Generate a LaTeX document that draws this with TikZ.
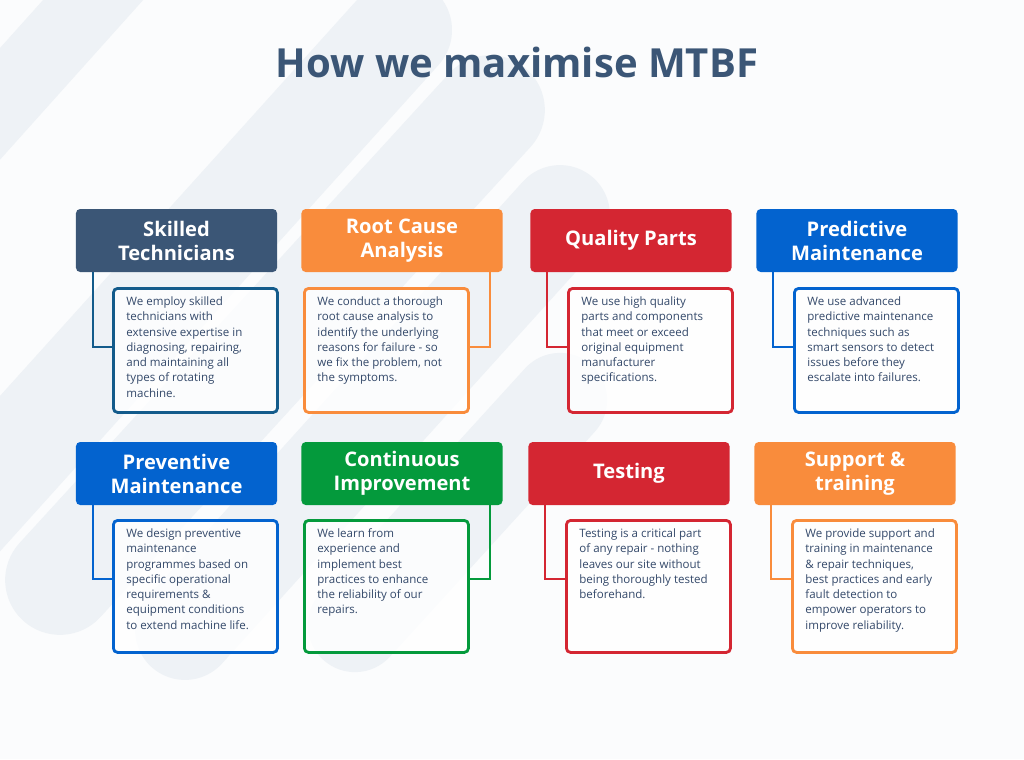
\documentclass[tikz,border=0pt]{standalone}
\usepackage{fontspec}
\setmainfont{Open Sans}
\usepackage{xcolor}
\definecolor{slate}{HTML}{3B5676}
\definecolor{slateline}{HTML}{135B8B}
\definecolor{amber}{HTML}{F98C3C}
\definecolor{crimson}{HTML}{D42632}
\definecolor{royal}{HTML}{0363CF}
\definecolor{leaf}{HTML}{049A3C}
\definecolor{ink}{HTML}{34496A}
\definecolor{paper}{HTML}{FBFCFD}
\definecolor{band}{HTML}{EEF2F6}
\usepackage{tikz}
\tikzset{
  head/.style={fill=#1, rounded corners=3pt, text=white, align=center, inner sep=0pt,
    minimum width=5.025cm, minimum height=1.575cm, font=\fontsize{14.3}{17}\selectfont\bfseries},
  card/.style={draw=#1, line width=2pt, rounded corners=3pt, fill=white, fill opacity=0.8,
    text opacity=1, text=ink, inner xsep=0.325cm, inner ysep=0pt, anchor=north west,
    font=\fontsize{8.2}{10.85}\selectfont},
  link/.style={draw=#1, line width=1.4pt},
  stripe/.style={band, line width=#1, line cap=round},
}
\newcommand\cardtext[2]{\parbox[c][#1][t]{3.45cm}{\raggedright\rule{0pt}{0.43cm}#2}}

\begin{document}
\begin{tikzpicture}[x=0.025cm, y=-0.025cm]
  \fill[paper] (0,0) rectangle (1024,759);
  % faint stripes behind everything
  \begin{scope}
    \clip (0,0) rectangle (1024,759);
    \draw[stripe=53pt] (-140,260) -- (120,-30);
    \draw[stripe=74pt] (-150,640) -- (400,30);
    \draw[stripe=78pt] (60,580) -- (490,110);
    \draw[stripe=71pt] (185,630) -- (560,215);
    \draw[stripe=67pt] (355,625) -- (560,400);
  \end{scope}

  \node[font=\fontsize{28.5}{32}\selectfont\bfseries, text=slate] (title) at (517,62) {How we maximise MTBF};

  \node[head=slate] (h1) at (176.5,240.5) {Skilled\\Technicians};
  \node[head=amber] (h2) at (402,240.5) {Root Cause\\Analysis};
  \node[head=crimson] (h3) at (631,240.5) {Quality Parts};
  \node[head=royal] (h4) at (857,240.5) {Predictive\\Maintenance};
  \node[head=royal] (h5) at (176.5,473.5) {Preventive\\Maintenance};
  \node[head=leaf] (h6) at (402,473.5) {Continuous\\Improvement};
  \node[head=crimson] (h7) at (629,473.5) {Testing};
  \node[head=amber] (h8) at (855,473.5) {Support \&\\training};

  \node[card=slateline] (t1) at (112,287) {\cardtext{3.1cm}{We employ skilled\\technicians with\\extensive expertise in\\diagnosing, repairing,\\and maintaining all\\types of rotating\\machine.}};
  \node[card=amber] (t2) at (303,287) {\cardtext{3.1cm}{We conduct a thorough\\root cause analysis to\\identify the underlying\\reasons for failure - so\\we fix the problem, not\\the symptoms.}};
  \node[card=crimson] (t3) at (567,287) {\cardtext{3.1cm}{We use high quality\\parts and components\\that meet or exceed\\original equipment\\manufacturer\\specifications.}};
  \node[card=royal] (t4) at (793,287) {\cardtext{3.1cm}{We use advanced\\predictive maintenance\\techniques such as\\smart sensors to detect\\issues before they\\escalate into failures.}};
  \node[card=royal] (t5) at (112,519) {\cardtext{3.3cm}{We design preventive\\maintenance\\programmes based on\\specific operational\\requirements \&\\equipment conditions\\to extend machine life.}};
  \node[card=leaf] (t6) at (303,519) {\cardtext{3.3cm}{We learn from\\experience and\\implement best\\practices to enhance\\the reliability of our\\repairs.}};
  \node[card=crimson] (t7) at (565,519) {\cardtext{3.3cm}{Testing is a critical part\\of any repair - nothing\\leaves our site without\\being thoroughly tested\\beforehand.}};
  \node[card=amber] (t8) at (791,519) {\cardtext{3.3cm}{We provide support and\\training in maintenance\\\& repair techniques,\\best practices and early\\fault detection to\\empower operators to\\improve reliability.}};

  \foreach \h/\t/\c in {h1/t1/slateline, h3/t3/crimson, h4/t4/royal, h5/t5/royal, h7/t7/crimson, h8/t8/amber}
    \draw[link=\c] ([xshift=0.425cm]\h.south west) |- ([yshift=-1.5cm]\t.north west);
  \foreach \h/\t/\c in {h2/t2/amber, h6/t6/leaf}
    \draw[link=\c] ([xshift=-0.325cm]\h.south east) |- ([yshift=-1.5cm]\t.north east);
\end{tikzpicture}
\end{document}
